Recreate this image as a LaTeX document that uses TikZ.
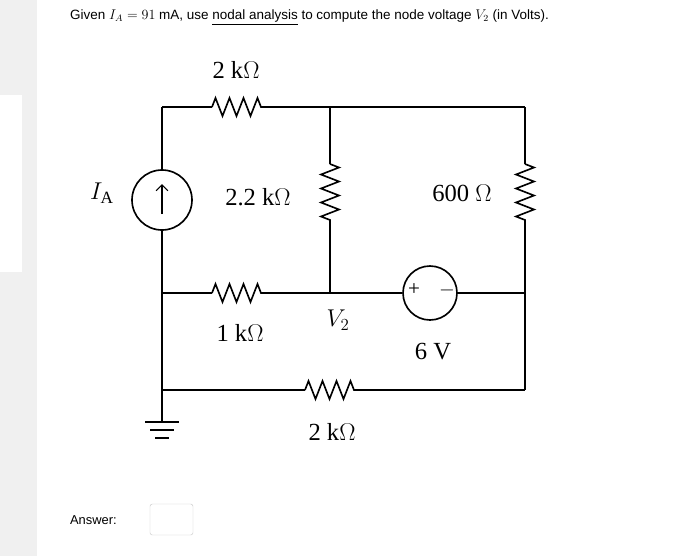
\documentclass[tikz,border=0pt]{standalone}
\usepackage{fontspec}
\setmainfont{Liberation Serif}
\newfontfamily\hdr{Liberation Sans}
\usetikzlibrary{decorations.pathmorphing,arrows.meta}
\begin{document}
\begin{tikzpicture}[x=0.03cm,y=-0.03cm,
  w/.style={line width=1.4pt},
  res/.style={w,decorate,decoration={zigzag,segment length=0.42cm,amplitude=0.27cm}},
  lab/.style={font=\fontsize{21}{24}\selectfont}]
\useasboundingbox (0,0) rectangle (700,556);
\fill[gray!12] (0,0) rectangle (700,556);
\fill[white] (37,0) rectangle (700,556);
\fill[white] (0,95) rectangle (22,272);
\node[anchor=west,font=\hdr\fontsize{11.5}{13}\selectfont] (hd) at (66,17) {Given $I_A=91$ mA, use \underline{nodal analysis} to compute the node voltage $V_2$ (in Volts).};
\node[anchor=west,font=\hdr\fontsize{11}{13}\selectfont] (ans) at (66,520) {Answer:};
\draw[gray!40,rounded corners=2pt] (150,504) rectangle (193,535);
\coordinate (tl) at (162,107); \coordinate (tm) at (330,107); \coordinate (tr) at (525,107);
\coordinate (ml) at (162,293); \coordinate (mm) at (330,293); \coordinate (mr) at (525,293);
\coordinate (bl) at (162,390); \coordinate (br) at (525,390);
\coordinate (r1a) at (212,107); \coordinate (r1b) at (262,107);
\coordinate (r2a) at (330,164); \coordinate (r2b) at (330,222);
\coordinate (r3a) at (212,293); \coordinate (r3b) at (262,293);
\coordinate (r4a) at (525,164); \coordinate (r4b) at (525,222);
\coordinate (r5a) at (305,390); \coordinate (r5b) at (355,390);
\coordinate (gnd) at (162,422);
\node[circle,draw,w,minimum size=1.8cm,inner sep=0] (cs) at (162,200) {};
\node[circle,draw,w,minimum size=1.62cm,inner sep=0] (vs) at (430,293) {};
\draw[w] (tl) -- (r1a); \draw[res] (r1a) -- (r1b); \draw[w] (r1b) -- (tr);
\draw[w] (tl) -- (cs.north); \draw[w] (cs.south) -- (gnd);
\draw[w] (tm) -- (r2a); \draw[res] (r2a) -- (r2b); \draw[w] (r2b) -- (mm);
\draw[w] (tr) -- (r4a); \draw[res] (r4a) -- (r4b); \draw[w] (r4b) -- (br);
\draw[w] (ml) -- (r3a); \draw[res] (r3a) -- (r3b); \draw[w] (r3b) -- (mm) -- (vs.west);
\draw[w] (vs.east) -- (mr);
\draw[w] (bl) -- (r5a); \draw[res] (r5a) -- (r5b); \draw[w] (r5b) -- (br);
\draw[line width=1pt,-{Straight Barb[length=5pt]}] (162,214) -- (162,184);
\draw[line width=1.8pt] (145,422) -- (179,422) (150,430) -- (174,430) (155,438) -- (169,438);
\node[lab] (l1) at (236,70) {2 k$\Omega$};
\node[lab] (l2) at (258,197) {2.2 k$\Omega$};
\node[lab] (l3) at (240,333) {1 k$\Omega$};
\node[lab] (l4) at (462,193) {600 $\Omega$};
\node[lab] (l5) at (332,432) {2 k$\Omega$};
\node[lab] (l6) at (433,352) {6 V};
\node[lab] (l7) at (338,320) {$V_2$};
\node[lab] (l8) at (102,193) {$I_{\mathrm{A}}$};
\node[font=\fontsize{18}{20}\selectfont] (pl) at (414,290) {+};
\node[font=\fontsize{18}{20}\selectfont] (mi) at (447,290) {$-$};
\end{tikzpicture}
\end{document}
